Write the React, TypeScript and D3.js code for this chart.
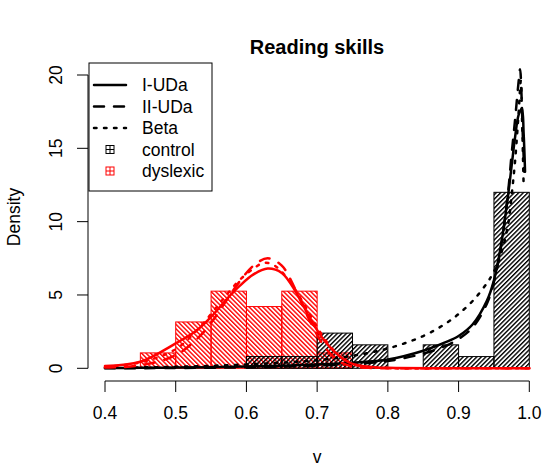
import React from 'react';
import * as d3 from 'd3';

// histogram bins (left edges), width 0.05
const binWidth = 0.05;
const controlBins = [0.6, 0.65, 0.7, 0.75, 0.8, 0.85, 0.9, 0.95];
const controlDensity = [0.8, 0.8, 2.4, 1.6, 0, 1.6, 0.8, 12.0];
const dyslexicBins = [0.45, 0.5, 0.55, 0.6, 0.65, 0.7];
const dyslexicDensity = [1.05, 3.16, 5.26, 4.21, 5.26, 1.05];

// fitted densities, control
const cV1 = [0.4, 0.45, 0.5, 0.55, 0.6, 0.65, 0.7, 0.75, 0.8, 0.85, 0.88, 0.9, 0.92, 0.94, 0.95, 0.96, 0.97, 0.975, 0.98, 0.985, 0.9895, 0.992, 0.994];
const cUDa1 = [0.02, 0.03, 0.05, 0.08, 0.12, 0.18, 0.26, 0.38, 0.6, 1.2, 1.75, 2.2, 3.0, 4.6, 6.0, 8.4, 11.8, 13.8, 15.8, 17.3, 17.7, 16.0, 13.4];
const cV2 = [0.4, 0.45, 0.5, 0.55, 0.6, 0.65, 0.7, 0.75, 0.8, 0.85, 0.88, 0.9, 0.92, 0.94, 0.95, 0.96, 0.97, 0.975, 0.98, 0.985, 0.987, 0.989, 0.991, 0.993];
const cUDa2 = [0.0, 0.01, 0.02, 0.04, 0.07, 0.11, 0.18, 0.3, 0.5, 1.0, 1.5, 2.0, 2.8, 4.4, 5.9, 8.3, 12.0, 14.6, 17.0, 19.6, 20.4, 18.6, 15.6, 13.4];
const cV3 = [0.4, 0.45, 0.5, 0.55, 0.6, 0.65, 0.7, 0.75, 0.8, 0.85, 0.88, 0.9, 0.92, 0.94, 0.95, 0.96, 0.97, 0.975, 0.98, 0.985, 0.988, 0.99, 0.992];
const cBeta = [0.03, 0.06, 0.1, 0.17, 0.26, 0.38, 0.55, 0.85, 1.35, 2.2, 3.0, 3.7, 4.6, 5.8, 6.6, 7.8, 9.8, 11.8, 14.2, 17.5, 19.6, 16.5, 12.4];

// fitted densities, dyslexic
const dV = [0.4, 0.45, 0.5, 0.53, 0.55, 0.57, 0.59, 0.61, 0.63, 0.65, 0.67, 0.69, 0.71, 0.73, 0.75, 0.78, 0.8, 0.9, 1.0];
const dUDa1 = [0.16, 0.45, 1.7, 2.6, 3.5, 4.6, 5.6, 6.4, 6.8, 6.5, 5.2, 3.4, 1.9, 0.9, 0.3, 0.08, 0.03, 0, 0];
const dUDa2 = [0.05, 0.2, 0.9, 2.0, 3.1, 4.5, 5.9, 7.0, 7.5, 7.0, 5.3, 3.2, 1.5, 0.5, 0.12, 0.02, 0, 0, 0];
const dV3 = [0.4, 0.45, 0.5, 0.53, 0.55, 0.57, 0.59, 0.61, 0.625, 0.64, 0.66, 0.68, 0.7, 0.72, 0.74, 0.76, 0.8, 0.9, 1.0];
const dBeta = [0.1, 0.4, 1.3, 2.6, 3.7, 4.9, 6.0, 6.8, 7.2, 7.0, 6.0, 4.5, 2.8, 1.4, 0.55, 0.15, 0.01, 0, 0];

const xTicks = [0.4, 0.5, 0.6, 0.7, 0.8, 0.9, 1.0];
const yTicks = [0, 5, 10, 15, 20];
const legendLabels = ['I-UDa', 'II-UDa', 'Beta', 'control', 'dyslexic'];

const font = '"Liberation Sans", Arial, Helvetica, sans-serif';
const dashes = ['none', '10,10', '2.5,7.5'];

export default function App() {
  const x = d3.scaleLinear().domain([0.4, 1.0]).range([105, 529.3]);
  const y = d3.scaleLinear().domain([0, 20]).range([368.3, 75]);

  const line = d3.line<[number, number]>()
    .x(d => x(d[0]))
    .y(d => y(d[1]))
    .curve(d3.curveCatmullRom.alpha(0.5));

  const zip = (a: number[], b: number[]) => a.map((v, i) => [v, b[i]] as [number, number]);

  const bars = (bins: number[], dens: number[], color: string, fill: string) =>
    bins.map((b, i) => (
      <rect key={color + i} x={x(b)} y={y(dens[i])}
        width={x(b + binWidth) - x(b)} height={y(0) - y(dens[i])}
        fill={fill} stroke={color} strokeWidth={1} />
    ));

  const curves = (sets: [number[], number[]][], color: string) =>
    sets.map(([v, d], i) => (
      <path key={color + i} d={line(zip(v, d)) || ''} fill="none" stroke={color}
        strokeWidth={2.5} strokeDasharray={dashes[i]} strokeLinecap="round" />
    ));

  return (
    <svg width={550} height={470} style={{ position: 'absolute', left: 0, top: 0 }} fontFamily={font}>
      <defs>
        <pattern id="hatchBlack" width={3.2} height={3.2} patternUnits="userSpaceOnUse" patternTransform="rotate(45)">
          <line x1={0.7} y1={0} x2={0.7} y2={3.2} stroke="black" strokeWidth={1.4} />
        </pattern>
        <pattern id="hatchRed" width={3.2} height={3.2} patternUnits="userSpaceOnUse" patternTransform="rotate(-45)">
          <line x1={0.7} y1={0} x2={0.7} y2={3.2} stroke="red" strokeWidth={1.4} />
        </pattern>
      </defs>

      <text x={317} y={54} textAnchor="middle" fontSize={20} fontWeight="bold">Reading skills</text>

      {bars(dyslexicBins, dyslexicDensity, 'red', 'url(#hatchRed)')}
      {bars(controlBins, controlDensity, 'black', 'url(#hatchBlack)')}
      {curves([[cV1, cUDa1], [cV2, cUDa2], [cV3, cBeta]], 'black')}
      {curves([[dV, dUDa1], [dV, dUDa2], [dV3, dBeta]], 'red')}

      {/* x axis */}
      <line x1={x(0.4)} x2={x(1.0)} y1={381} y2={381} stroke="black" />
      {xTicks.map(t => (
        <g key={t}>
          <line x1={x(t)} x2={x(t)} y1={381} y2={392} stroke="black" />
          <text x={x(t)} y={419} textAnchor="middle" fontSize={17.5}>{t.toFixed(1)}</text>
        </g>
      ))}
      <text x={317} y={463} textAnchor="middle" fontSize={17.5}>v</text>

      {/* y axis */}
      <line x1={88} x2={88} y1={y(0)} y2={y(20)} stroke="black" />
      {yTicks.map(t => (
        <g key={t}>
          <line x1={77} x2={88} y1={y(t)} y2={y(t)} stroke="black" />
          <text transform={`translate(62,${y(t)}) rotate(-90)`} textAnchor="middle" fontSize={17.5}>{t}</text>
        </g>
      ))}
      <text transform="translate(20,217) rotate(-90)" textAnchor="middle" fontSize={17.5}>Density</text>

      {/* legend */}
      <rect x={89} y={63} width={123} height={128} fill="white" stroke="black" />
      {legendLabels.map((lab, i) => {
        const cy = 85 + i * 21.5;
        return (
          <g key={lab}>
            {i < 3 ? (
              <line x1={94} x2={126} y1={cy} y2={cy} stroke="black" strokeWidth={2.5}
                strokeDasharray={dashes[i]} strokeLinecap="round" />
            ) : (
              <g stroke={i === 3 ? 'black' : 'red'} fill="none" strokeWidth={1}>
                <rect x={106} y={cy - 4} width={8} height={8} />
                <line x1={110} x2={110} y1={cy - 4} y2={cy + 4} />
                <line x1={106} x2={114} y1={cy} y2={cy} />
              </g>
            )}
            <text x={142} y={cy + 6} fontSize={17.5}>{lab}</text>
          </g>
        );
      })}
    </svg>
  );
}
